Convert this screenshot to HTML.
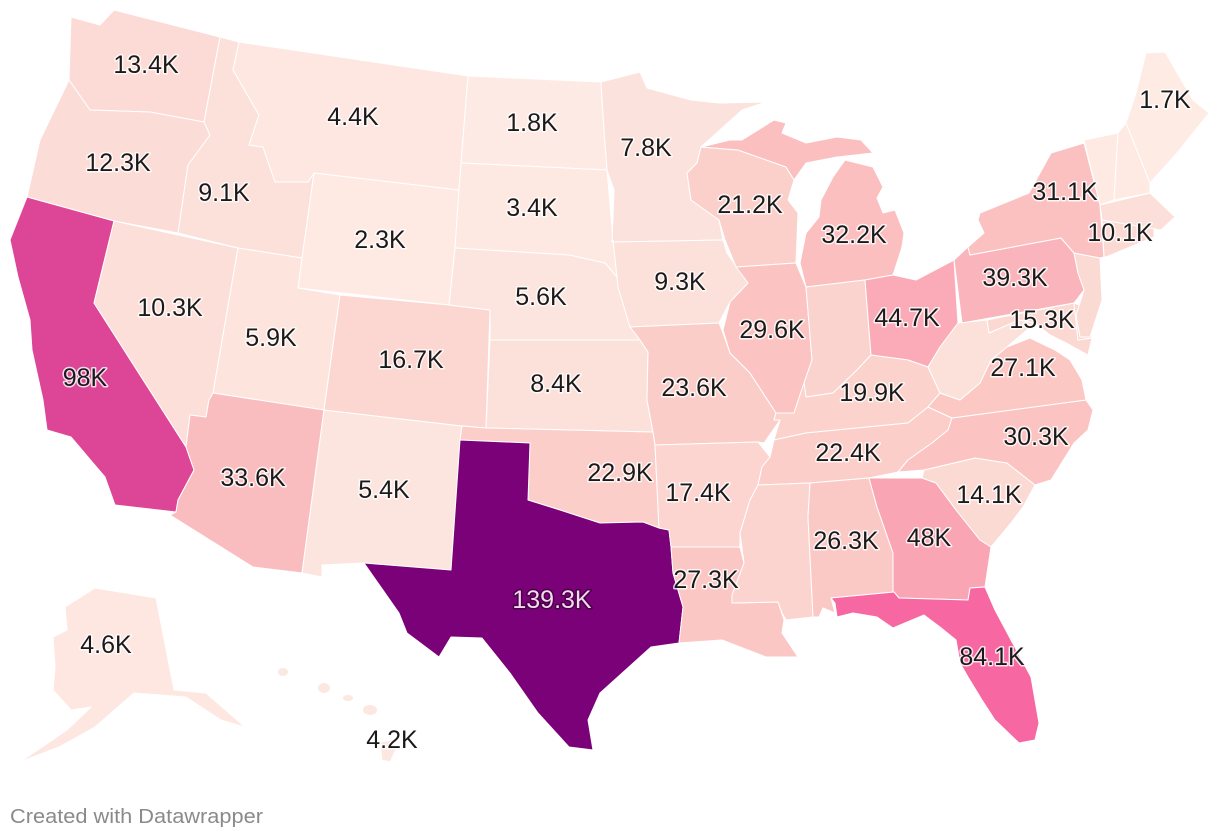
<!DOCTYPE html>
<html><head><meta charset="utf-8"><style>
html,body{margin:0;padding:0;background:#fff;width:1220px;height:840px;overflow:hidden}
svg{display:block}
.lbl{font-family:"Liberation Sans",sans-serif;font-size:25px;text-anchor:middle;dominant-baseline:central;paint-order:stroke;stroke-linejoin:round}
</style></head><body>
<svg id="map" width="1220" height="840" viewBox="0 0 1220 840">
<g id="states"></g>
<g id="labels"></g>
<text x="10" y="823" textLength="253" lengthAdjust="spacingAndGlyphs" style="font-family:'Liberation Sans',sans-serif;font-size:20px;fill:#8a8a8a">Created with Datawrapper</text>
</svg>
<script>
const states = ["WA","OR","CA","NV","ID","MT","WY","UT","AZ","NM","CO","ND","SD","NE","KS","OK","TX","MN","IA","MO","AR","LA","WI","IL","MI","MIU","IN","OH","KY","TN","MS","AL","GA","FL","SC","NC","VA","WV","MD","DE","PA","NJ","NY","CT","MA","VT","NH","ME","AK","HI"];
const values = [13400,12300,98000,10300,9100,4400,2300,5900,33600,5400,16700,1800,3400,5600,8400,22900,139300,7800,9300,23600,17400,27300,21200,29600,32200,32200,19000,44700,19900,22400,18000,26300,48000,84100,14100,30300,27100,9000,15300,16000,39300,14000,31100,14000,10100,2500,2500,1700,4600,4200];
const labelShown = [1,1,1,1,1,1,1,1,1,1,1,1,1,1,1,1,1,1,1,1,1,1,1,1,1,0,0,1,1,1,0,1,1,1,1,1,1,0,1,0,1,0,1,0,1,0,0,1,1,1];

const geo = {
WA:[[114,10],[220,37],[204,122],[150,112],[90,110],[69,80],[71,17],[100,25]],
OR:[[69,80],[90,110],[150,112],[204,122],[210,135],[188,165],[178,233],[114,221],[27,197],[40,140]],
CA:[[27,197],[114,221],[94,303],[186,447],[194,470],[178,500],[176,512],[115,505],[105,477],[93,463],[71,437],[47,430],[43,400],[32,350],[30,320],[18,277],[10,240]],
NV:[[114,221],[238,248],[213,393],[209,400],[206,417],[190,415],[186,447],[94,303]],
ID:[[220,37],[239,42],[233,70],[259,115],[249,145],[263,147],[275,182],[308,182],[314,173],[302,258],[238,248],[178,233],[188,165],[210,135],[204,122]],
MT:[[239,42],[468,76],[461,163],[459,190],[314,173],[308,182],[275,182],[263,147],[249,145],[259,115],[233,70]],
WY:[[314,173],[459,190],[455,248],[449,305],[298,288],[302,258]],
UT:[[238,248],[302,258],[298,288],[340,295],[324,410],[213,393]],
AZ:[[213,393],[324,410],[302,573],[253,567],[170,515],[176,512],[178,500],[194,470],[186,447],[190,415],[206,417],[209,400]],
NM:[[324,410],[462,426],[460,440],[451,570],[364,563],[322,565],[322,577],[302,573]],
CO:[[340,295],[449,305],[490,310],[486,428],[462,426],[324,410]],
ND:[[468,76],[601,82],[604,130],[607,170],[461,163]],
SD:[[461,163],[607,170],[613,240],[617,277],[605,263],[569,255],[455,248],[459,190]],
NE:[[455,248],[569,255],[605,263],[617,277],[622,295],[630,322],[640,340],[490,340],[490,310],[449,305]],
KS:[[490,340],[640,340],[648,352],[647,400],[653,432],[486,428]],
OK:[[486,428],[653,432],[655,445],[659,528],[643,522],[600,523],[560,510],[528,500],[530,443],[460,440],[462,426]],
TX:[[460,440],[530,443],[528,500],[560,510],[600,523],[643,522],[659,528],[669,530],[671,547],[673,573],[683,607],[679,643],[651,647],[600,693],[588,720],[593,750],[569,747],[538,713],[510,673],[482,638],[451,637],[439,657],[407,633],[399,613],[364,563],[451,570]],
MN:[[601,82],[640,72],[647,88],[691,100],[719,103],[766,102],[742,110],[701,147],[697,163],[687,173],[691,200],[719,220],[723,240],[612,242],[614,190],[607,170],[604,130]],
IA:[[612,242],[723,240],[727,253],[748,283],[730,302],[719,323],[630,327],[618,287],[617,277],[613,240]],
MO:[[630,327],[719,323],[723,333],[730,353],[750,373],[776,413],[774,420],[780,420],[764,443],[758,442],[655,445],[653,432],[647,400],[648,352],[640,340]],
AR:[[655,445],[758,442],[770,457],[762,467],[758,485],[750,500],[740,533],[740,547],[671,547],[669,530],[659,528]],
LA:[[671,547],[740,547],[744,563],[732,595],[732,603],[778,602],[784,620],[782,633],[798,657],[766,657],[722,640],[679,643],[683,607],[673,573]],
WI:[[701,147],[738,150],[786,167],[794,180],[788,200],[798,213],[796,263],[736,267],[725,240],[719,220],[691,200],[687,173],[697,163]],
IL:[[736,267],[796,263],[806,287],[812,360],[804,383],[794,413],[776,413],[750,373],[730,353],[723,330],[730,302],[748,283]],
MI:[[806,287],[865,280],[893,275],[902,247],[904,233],[895,210],[883,213],[877,198],[883,187],[873,167],[845,160],[833,177],[821,200],[819,217],[806,233],[800,263]],
MIU:[[701,147],[730,140],[742,140],[774,120],[786,123],[782,133],[806,143],[837,137],[861,140],[873,153],[837,157],[806,163],[794,180],[786,167],[738,150]],
IN:[[806,287],[865,280],[871,355],[857,370],[833,393],[806,397],[804,383],[812,360]],
OH:[[865,280],[893,275],[916,280],[954,260],[958,323],[940,347],[928,367],[908,360],[871,355]],
KY:[[804,383],[806,397],[833,393],[857,370],[871,355],[908,360],[928,367],[940,393],[928,407],[908,423],[806,433],[774,440],[780,420],[774,420],[776,413],[794,413]],
TN:[[774,440],[806,433],[908,423],[928,407],[952,418],[948,430],[932,443],[908,460],[898,472],[869,478],[810,483],[758,485],[762,467],[770,457]],
MS:[[758,485],[810,483],[808,517],[813,617],[786,620],[782,613],[778,602],[732,603],[732,595],[744,563],[740,533],[750,500]],
AL:[[810,483],[869,478],[877,507],[893,553],[894,592],[831,598],[835,613],[823,608],[819,617],[813,617],[808,517]],
GA:[[869,478],[922,478],[936,483],[956,510],[980,540],[991,547],[985,587],[970,588],[968,600],[899,598],[893,592],[893,553],[877,507]],
FL:[[831,598],[894,592],[899,598],[968,600],[970,588],[985,587],[995,610],[1011,640],[1031,677],[1039,723],[1035,740],[1019,743],[995,720],[982,700],[968,677],[960,663],[956,640],[940,627],[924,615],[893,628],[877,617],[853,613],[837,617],[835,603]],
SC:[[922,478],[924,470],[975,458],[1007,463],[1035,485],[1023,507],[1011,523],[991,547],[980,540],[956,510],[936,483]],
NC:[[952,418],[1086,400],[1093,410],[1088,430],[1074,443],[1051,480],[1035,485],[1007,463],[975,458],[924,470],[898,472],[908,460],[932,443],[948,430]],
VA:[[928,407],[940,393],[960,400],[980,383],[991,360],[1007,347],[1030,338],[1055,350],[1070,360],[1082,380],[1086,400],[952,418]],
WV:[[958,323],[987,320],[989,333],[1019,320],[1035,323],[1007,347],[991,360],[980,383],[960,400],[940,393],[928,367],[940,347]],
MD:[[987,320],[1074,303],[1078,340],[1092,338],[1088,355],[1070,345],[1050,335],[1035,323],[1019,320],[989,333]],
DE:[[1074,303],[1082,306],[1092,338],[1078,340]],
PA:[[968,247],[970,255],[1061,238],[1074,253],[1078,273],[1084,290],[1074,303],[962,323],[954,260]],
NJ:[[1074,253],[1100,258],[1102,300],[1090,337],[1080,337],[1076,315],[1084,290],[1078,273]],
NY:[[1084,143],[1051,153],[1029,193],[980,213],[978,220],[984,233],[968,247],[970,255],[1061,238],[1074,253],[1100,258],[1104,257],[1100,205]],
CT:[[1102,220],[1154,227],[1154,237],[1106,257],[1104,257]],
MA:[[1100,205],[1150,193],[1175,217],[1161,230],[1102,220]],
VT:[[1084,140],[1118,133],[1114,200],[1100,205]],
NH:[[1126,123],[1150,183],[1150,193],[1114,200],[1118,133]],
ME:[[1146,53],[1165,52],[1193,100],[1209,113],[1177,153],[1150,183],[1126,123],[1136,93]],
AK:[[95,588],[156,598],[174,690],[206,693],[245,727],[221,720],[186,697],[134,693],[95,727],[59,747],[20,762],[67,730],[91,707],[71,710],[53,690],[55,667],[53,637],[67,630],[65,607]],
HI:[[380,742],[392,740],[396,750],[390,762],[382,760]]
};
const labelPos = {WA:[146,65],OR:[118,163],CA:[85,378],NV:[170,308],ID:[224,193],MT:[353,117],WY:[380,240],UT:[271,338],AZ:[253,478],NM:[384,490],CO:[411,360],ND:[532,123],SD:[532,208],NE:[541,297],KS:[556,384],OK:[620,473],TX:[552,600],MN:[646,148],IA:[680,282],MO:[694,388],AR:[698,493],LA:[706,580],WI:[750,205],IL:[772,330],MI:[854,235],OH:[907,318],KY:[872,393],TN:[848,453],AL:[846,541],GA:[929,538],FL:[992,657],SC:[989,495],NC:[1036,437],VA:[1023,368],MD:[1042,320],PA:[1015,278],NY:[1065,192],MA:[1120,233],ME:[1165,100],AK:[106,645],HI:[392,740]};
const hiExtra = [[283,672,5,4],[324,688,6,5],[348,698,5,3],[370,710,7,5]];

const stopsV = [0,10000,25000,40000,50000,84000,98000,139300];
const stopsC = ["#feede6","#fcdfd9","#fbcbc6","#fab3ba","#f9a2b3","#f767a1","#dd4597","#7a0177"];
function hex(c){return [1,3,5].map(i=>parseInt(c.substr(i,2),16));}
function colorScale(v){
  for(let i=1;i<stopsV.length;i++){
    if(v<=stopsV[i]){const t=(v-stopsV[i-1])/(stopsV[i]-stopsV[i-1]);const a=hex(stopsC[i-1]),b=hex(stopsC[i]);
      return "rgb("+a.map((x,k)=>Math.round(x+(b[k]-x)*t)).join(",")+")";}
  }
  return stopsC[stopsC.length-1];
}
function fmt(v){let s=(v/1000).toFixed(1);if(s.endsWith(".0"))s=s.slice(0,-2);return s+"K";}
const NS="http://www.w3.org/2000/svg";
const gS=document.getElementById("states"), gL=document.getElementById("labels");
states.forEach((id,i)=>{
  const p=document.createElementNS(NS,"polygon");
  p.setAttribute("points",geo[id].map(q=>q.join(",")).join(" "));
  p.setAttribute("fill",colorScale(values[i]));
  p.setAttribute("stroke","#fff");p.setAttribute("stroke-width","1");p.setAttribute("stroke-linejoin","round");
  
  
  gS.appendChild(p);
  if(id==="HI"){hiExtra.forEach(e=>{const el=document.createElementNS(NS,"ellipse");
    el.setAttribute("cx",e[0]);el.setAttribute("cy",e[1]);el.setAttribute("rx",e[2]);el.setAttribute("ry",e[3]);
    el.setAttribute("fill",colorScale(values[i]));
    
    
    gS.appendChild(el);});}
});
states.forEach((id,i)=>{
  if(!labelShown[i]||!labelPos[id])return;
  const t=document.createElementNS(NS,"text");
  t.setAttribute("x",labelPos[id][0]);t.setAttribute("y",labelPos[id][1]);
  t.setAttribute("class","lbl");
  const dark=values[i]>120000;
  t.setAttribute("fill",dark?"#f3d9ee":"#1a1a1a");
  t.setAttribute("stroke",dark?"#4a0048":"rgba(255,255,255,0.8)");
  t.setAttribute("stroke-width","3");
  t.textContent=fmt(values[i]);
  
  
  gL.appendChild(t);
});
</script>
</body></html>
